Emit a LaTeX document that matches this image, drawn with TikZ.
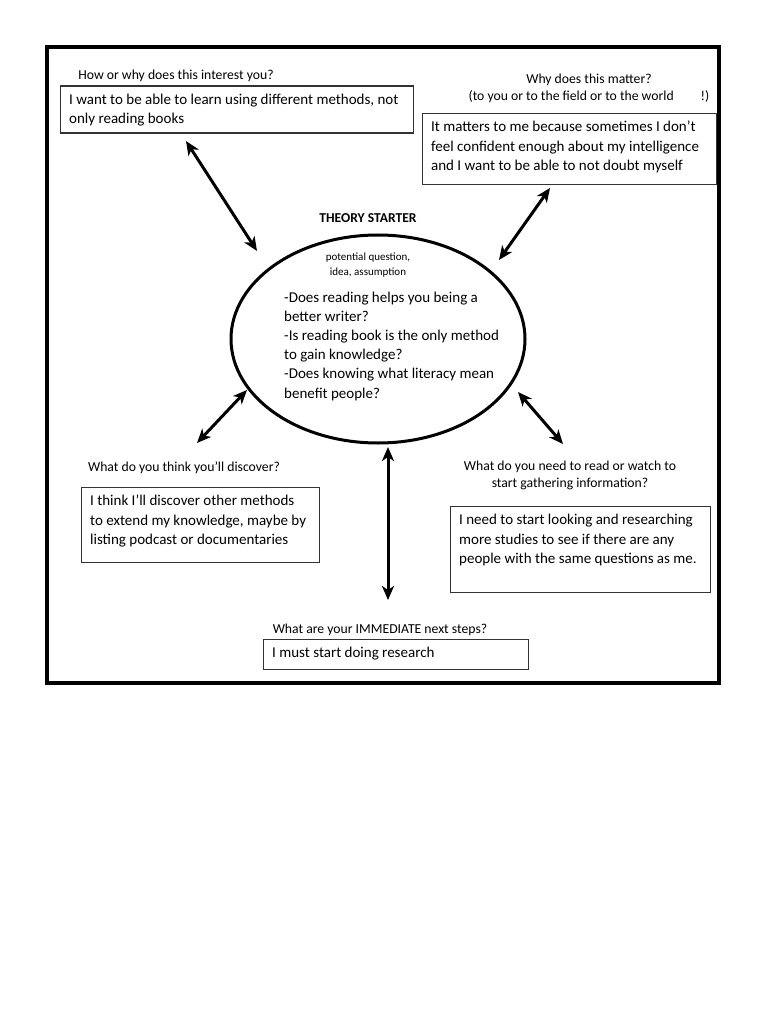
\documentclass[tikz,border=0pt]{standalone}
\usepackage{fontspec}
\setmainfont{Carlito}
\usetikzlibrary{arrows.meta}
\newcommand{\boxfont}{\fontsize{15}{19.5}\selectfont}
\newcommand{\lblfont}{\fontsize{13.7}{17}\selectfont}
\begin{document}
\begin{tikzpicture}[x=1pt,y=-1pt,
  frame/.style={draw=black,line width=4pt},
  answer/.style={draw=black!80,line width=1.3pt,anchor=north west,inner xsep=8.5pt,inner ysep=4.5pt,font=\boxfont},
  question/.style={anchor=center,inner sep=0pt,font=\lblfont,align=center},
  link/.style={line width=3pt,{Stealth[length=14pt,width=12pt,inset=4pt]}-{Stealth[length=14pt,width=12pt,inset=4pt]}},
  oval/.style={draw=black,line width=3pt}
]
\useasboundingbox (0,0) rectangle (768,1024);
\fill[white] (0,0) rectangle (768,1024);
\draw[frame] (47,47) rectangle (719,683);

% top-left
\node[question] (q1) at (176,76) {How or why does this interest you?};
\node[answer] (b1) at (60,85.5) {\parbox[c][38pt][t]{336pt}{\raggedright\strut I want to be able to learn using different methods, not\\only reading books}};

% top-right
\node[question] (q2) at (589,88) {Why does this matter?\\(to you or to the field or to the world\hspace{27pt}!)};
\node[answer] (b2) at (422,113) {\parbox[c][62pt][t]{277pt}{\raggedright\strut It matters to me because sometimes I don’t\\feel confident enough about my intelligence\\and I want to be able to not doubt myself}};

% centre
\node[question,font=\bfseries\fontsize{13.6}{16}\selectfont] (title) at (368,218) {THEORY STARTER};
\draw[oval] (378,339) ellipse [x radius=147, y radius=104];
\node[question,font=\fontsize{11}{15}\selectfont] (sub) at (368,265.5) {potential question,\\idea, assumption};
\node[anchor=north west,inner sep=0pt,font=\fontsize{15}{19.2}\selectfont] (ideas) at (284,288.5) {\parbox[t]{240pt}{\raggedright\strut -Does reading helps you being a\\better writer?\\-Is reading book is the only method\\to gain knowledge?\\-Does knowing what literacy mean\\benefit people?}};

% bottom-left
\node[question] (q3) at (184,468) {What do you think you’ll discover?};
\node[answer] (b3) at (81,487) {\parbox[c][66pt][t]{221pt}{\raggedright\strut I think I’ll discover other methods\\to extend my knowledge, maybe by\\listing podcast or documentaries}};

% bottom-right
\node[question] (q4) at (570,475.5) {What do you need to read or watch to\\start gathering information?};
\node[answer] (b4) at (450,506) {\parbox[c][77pt][t]{243pt}{\raggedright\strut I need to start looking and researching\\more studies to see if there are any\\people with the same questions as me.}};

% bottom
\node[question] (q5) at (380,630) {What are your IMMEDIATE next steps?};
\node[answer] (b5) at (263,639) {\parbox[c][21pt][t]{248pt}{\raggedright\strut I must start doing research}};

% arrow ends
\coordinate (a1s) at (186,141);
\coordinate (a1e) at (257,251);
\coordinate (a2s) at (550,188);
\coordinate (a2e) at (499,260);
\coordinate (a3s) at (197,443);
\coordinate (a3e) at (247,390);
\coordinate (a4s) at (518,392);
\coordinate (a4e) at (563,444);
\coordinate (a5s) at (388,447);
\coordinate (a5e) at (388,600);

\draw[link] (a1s) -- (a1e);
\draw[link] (a2s) -- (a2e);
\draw[link] (a3s) -- (a3e);
\draw[link] (a4s) -- (a4e);
\draw[link] (a5s) -- (a5e);
\end{tikzpicture}
\end{document}
